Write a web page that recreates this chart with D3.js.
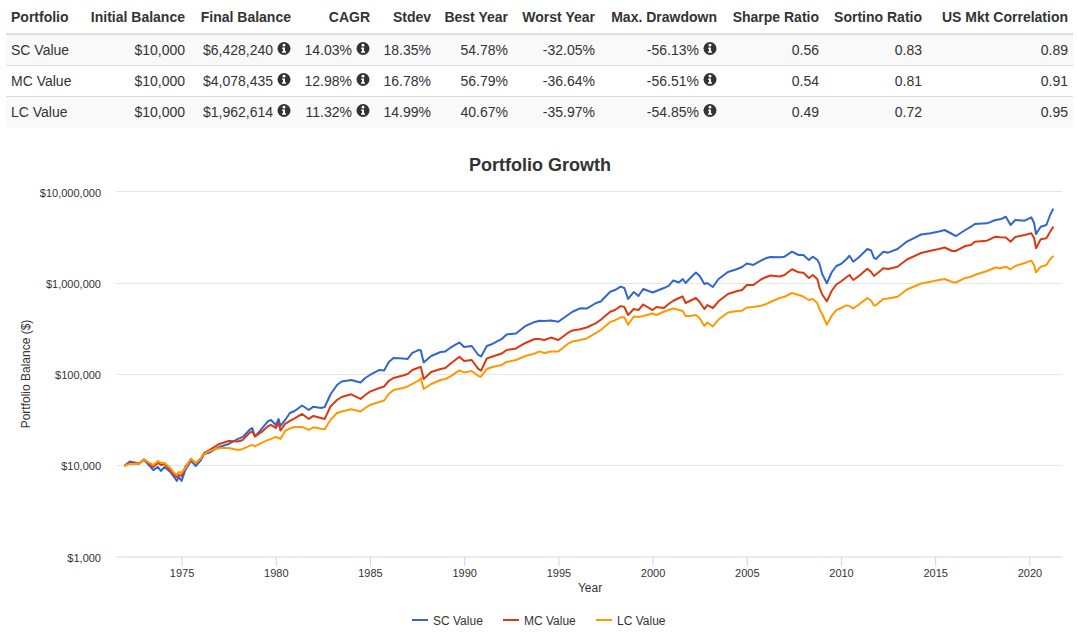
<!DOCTYPE html>
<html>
<head>
<meta charset="utf-8">
<script src="https://cdn.jsdelivr.net/npm/d3@7/dist/d3.min.js"></script>
<style>
  html, body { margin: 0; padding: 0; background: #fff; }
  svg { display: block; font-family: "Liberation Sans", Arial, sans-serif; }
</style>
</head>
<body>
<svg id="page" width="1077" height="635"></svg>
<script>
// Summary table
const tableHeaders = ["Portfolio","Initial Balance","Final Balance","CAGR","Stdev","Best Year","Worst Year","Max. Drawdown","Sharpe Ratio","Sortino Ratio","US Mkt Correlation"];
const portfolios = ["SC Value","MC Value","LC Value"];
const initialBalance = ["$10,000","$10,000","$10,000"];
const finalBalance = ["$6,428,240","$4,078,435","$1,962,614"];
const cagr = ["14.03%","12.98%","11.32%"];
const stdev = ["18.35%","16.78%","14.99%"];
const bestYear = ["54.78%","56.79%","40.67%"];
const worstYear = ["-32.05%","-36.64%","-35.97%"];
const maxDrawdown = ["-56.13%","-56.51%","-54.85%"];
const sharpe = ["0.56","0.54","0.49"];
const sortino = ["0.83","0.81","0.72"];
const usCorrelation = ["0.89","0.91","0.95"];

// Growth of $10,000, sampled through time
const dates = [1972,1972.25,1972.5,1972.75,1973,1973.25,1973.5,1973.75,1973.9,1974.1,1974.4,1974.6,1974.75,1974.85,1975,1975.2,1975.5,1975.75,1976,1976.2,1976.5,1977,1977.5,1978,1978.25,1978.6,1978.75,1978.9,1979.25,1979.6,1979.75,1980,1980.15,1980.25,1980.5,1980.75,1981,1981.4,1981.75,1982,1982.4,1982.6,1982.9,1983.25,1983.5,1984,1984.5,1984.75,1985,1985.5,1985.75,1986,1986.25,1986.75,1987,1987.25,1987.6,1987.7,1987.85,1988.25,1988.75,1989,1989.25,1989.75,1990,1990.4,1990.75,1990.9,1991.2,1991.5,1992,1992.25,1992.75,1993.25,1993.75,1994,1994.25,1994.6,1995,1995.5,1995.75,1996.15,1996.5,1997,1997.25,1997.75,1998,1998.3,1998.5,1998.7,1999,1999.25,1999.5,2000,2000.2,2000.6,2000.85,2001.1,2001.4,2001.6,2001.75,2002,2002.3,2002.5,2002.75,2002.9,2003.2,2003.5,2004,2004.5,2004.75,2005,2005.35,2005.75,2006,2006.25,2006.75,2007,2007.4,2007.75,2008,2008.3,2008.5,2008.75,2008.85,2009,2009.25,2009.5,2009.75,2010,2010.3,2010.45,2010.65,2010.95,2011.4,2011.6,2011.75,2011.85,2012.25,2012.5,2013,2013.5,2014.25,2014.75,2015.2,2015.5,2015.9,2016.1,2016.6,2016.9,2017.1,2017.75,2018.2,2018.45,2018.75,2019,2019.25,2019.75,2020.1,2020.25,2020.35,2020.6,2020.9,2021.1,2021.25];

const scValue = [10000,11060,10790,10520,11500,10130,8900,9620,8700,9620,8490,7480,6770,7480,6770,8900,11200,9870,11200,13370,13880,15950,17210,19520,20530,24500,25760,20790,25120,30740,31530,27790,32330,27100,31530,37620,39570,45460,40580,44100,42680,43770,60000,76250,83300,86500,81220,90990,98140,111500,110100,136400,150900,149000,147100,171200,184700,182400,134700,158700,175500,178000,194300,223100,199100,204200,162700,156700,204200,214800,243800,273000,280000,338300,375000,386700,384000,388700,377000,446600,485000,529000,526000,604500,628000,804000,839000,913000,882000,670000,797000,721000,861000,788000,818000,882000,930000,1068000,1015000,1109000,1002000,1138000,1306000,1196000,976000,1002000,905000,1109000,1323000,1428000,1501000,1639000,1579000,1761000,1871000,1933000,1918000,1947000,2209000,2032000,2032000,1792000,1947000,1792000,1639000,1258000,995000,1306000,1540000,1619000,1838000,1997000,1717000,1918000,2365000,2277000,1885000,1838000,2209000,2154000,2365000,2856000,3410000,3514000,3677000,3820000,3453000,3282000,3820000,4151000,4444000,4523000,4915000,5003000,5343000,4333000,4915000,4830000,5263000,4558000,3453000,4151000,4333000,5577000,6428240];

const mcValue = [10000,10650,10520,10520,11640,10650,9620,10650,10130,10390,8900,7870,7480,7870,7670,9620,11640,10650,11780,13710,14780,17210,18560,18330,19040,22710,23590,20790,23300,27100,27790,25760,29230,24190,28500,30740,32740,36680,32330,34880,33160,32330,44320,52230,56340,60300,53560,59250,64400,70700,73420,84400,90990,96910,100700,111500,118700,120200,88730,106000,114300,117300,129700,155900,139900,143400,114300,109500,149000,156700,169000,184700,191800,220300,243800,243800,237700,252500,237700,283500,302000,311300,325800,363800,396000,485000,506000,559000,546000,446600,519000,506000,582000,506000,546000,533000,589000,640000,686000,712000,604500,640000,686000,620000,519000,573000,533000,631000,759000,818000,839000,952000,952000,1095000,1158000,1211000,1181000,1227000,1417000,1313000,1300000,1138000,1227000,1101000,905000,749000,631000,818000,965000,1041000,1167000,1227000,1081000,1196000,1438000,1323000,1196000,1243000,1452000,1428000,1512000,1815000,2137000,2267000,2365000,2456000,2249000,2249000,2551000,2615000,2843000,2916000,3225000,3175000,3160000,2843000,3201000,3366000,3514000,3121000,2407000,3020000,3098000,3660000,4078435];

const lcValue = [10000,10390,10390,10520,11640,10790,10130,11200,10650,10650,9390,8280,7870,8490,8280,9390,11930,10650,11780,13370,14420,15550,15550,14780,15160,16360,16780,16150,17650,19040,19520,20530,20020,19520,23890,25440,26420,26420,24500,26200,25250,24940,31530,37620,39070,41300,39070,42680,46030,49650,51570,60760,67200,70700,73420,78200,85420,90990,68940,78200,86500,88730,94000,110100,104700,108700,95700,94000,114300,120200,126500,136400,143400,158700,169000,178000,171200,178000,178000,214800,229000,237700,246800,283500,306500,375000,388700,421400,421400,349000,430000,424000,435500,464000,446600,485000,506000,526000,506000,494000,435500,435500,446600,412000,338300,370000,334100,398000,476000,494000,498000,540000,546000,565000,585000,620000,686000,708000,778000,740000,712000,652000,670000,600000,519000,458000,349000,435500,506000,533000,569000,559000,526000,582000,686000,640000,569000,573000,670000,677000,708000,850000,990000,1036000,1081000,1109000,1028000,1015000,1138000,1175000,1227000,1357000,1482000,1452000,1512000,1417000,1540000,1661000,1761000,1579000,1313000,1512000,1579000,1824000,1962614];

const seriesNames = ["SC Value","MC Value","LC Value"];
const seriesValues = [scValue, mcValue, lcValue];
const seriesColors = ["#3366cc","#dc3912","#ff9900"];

const yTicks = [1000,10000,100000,1000000,10000000];
const xTicks = [1975,1980,1985,1990,1995,2000,2005,2010,2015,2020];

const svg = d3.select("#page");
const ink = "#333";

// ---- table ----
const rowTop = [35, 66, 97], rowH = 30.5;
const tableLeft = 6, tableRight = 1073;
const columns = [
  {vals: portfolios, right: null, left: 11},
  {vals: initialBalance, right: 185},
  {vals: finalBalance, right: 291, valueRight: 273, icon: 284},
  {vals: cagr, right: 370, valueRight: 352, icon: 363},
  {vals: stdev, right: 431},
  {vals: bestYear, right: 508},
  {vals: worstYear, right: 595},
  {vals: maxDrawdown, right: 717, valueRight: 699, icon: 710},
  {vals: sharpe, right: 819},
  {vals: sortino, right: 922},
  {vals: usCorrelation, right: 1068}
];

const table = svg.append("g");
table.selectAll("rect.stripe").data([0, 2]).join("rect")
  .attr("class", "stripe").attr("x", tableLeft).attr("width", tableRight - tableLeft)
  .attr("y", i => rowTop[i]).attr("height", rowH).attr("fill", "#f9f9f9");
table.append("rect").attr("x", tableLeft).attr("y", 33).attr("width", tableRight - tableLeft)
  .attr("height", 2).attr("fill", "#ddd");
table.selectAll("rect.rule").data([65, 96]).join("rect")
  .attr("class", "rule").attr("x", tableLeft).attr("width", tableRight - tableLeft)
  .attr("y", d => d).attr("height", 1).attr("fill", "#ddd");

columns.forEach((c, ci) => {
  const isLeft = c.right === null;
  table.append("text")
    .attr("x", isLeft ? c.left : c.right).attr("y", 22)
    .attr("text-anchor", isLeft ? "start" : "end")
    .attr("font-size", 14).attr("font-weight", "bold").attr("fill", ink)
    .text(tableHeaders[ci]);
  c.vals.forEach((v, r) => {
    table.append("text")
      .attr("x", isLeft ? c.left : (c.valueRight || c.right)).attr("y", rowTop[r] + 20)
      .attr("text-anchor", isLeft ? "start" : "end")
      .attr("font-size", 14).attr("fill", ink)
      .text(v);
    if (c.icon) {
      const g = table.append("g").attr("transform", `translate(${c.icon},${rowTop[r] + 13.5})`);
      g.append("circle").attr("r", 6.5).attr("fill", "#333");
      g.append("circle").attr("cy", -3.3).attr("r", 1.4).attr("fill", "#fff");
      g.append("path").attr("d", "M-1.8,-1 H1 V2.8 H2 V4.2 H-2 V2.8 H-1 V0.4 H-1.8 Z").attr("fill", "#fff");
    }
  });
});

// ---- chart ----
const plot = {left: 116, right: 1062, top: 191.9, bottom: 556.6};
const x = d3.scaleLinear().domain([1971.52, 2021.73]).range([plot.left, plot.right]);
const y = d3.scaleLog().domain([1000, 10000000]).range([plot.bottom, plot.top]);
const gridY = v => Math.floor(y(v)) + 0.5;

svg.append("text").attr("x", 540).attr("y", 171).attr("text-anchor", "middle")
  .attr("font-size", 18).attr("font-weight", "bold").attr("fill", ink).text("Portfolio Growth");

// horizontal grid
svg.append("g").selectAll("line").data(yTicks.slice(1)).join("line")
  .attr("x1", plot.left).attr("x2", plot.right)
  .attr("y1", gridY).attr("y2", gridY)
  .attr("stroke", "#e6e6e6");

// y axis labels only: no domain line or tick marks
const yAxis = svg.append("g").attr("transform", `translate(${plot.left},1)`)
  .call(d3.axisLeft(y).tickValues(yTicks).tickFormat(d3.format("$,")).tickSize(0).tickPadding(15));
yAxis.select(".domain").remove();
yAxis.selectAll("text").attr("font-size", 11).attr("fill", ink).attr("font-family", "inherit");

const xAxis = svg.append("g").attr("transform", `translate(0,${gridY(1000)})`)
  .call(d3.axisBottom(x).tickValues(xTicks).tickFormat(d3.format("d")).tickSize(10).tickPadding(3).tickSizeOuter(0));
xAxis.select(".domain").attr("stroke", "#ccd6eb");
xAxis.selectAll(".tick line").attr("stroke", "#ccd6eb");
xAxis.selectAll("text").attr("font-size", 11).attr("fill", ink).attr("font-family", "inherit");

svg.append("text").attr("x", 590).attr("y", 592).attr("text-anchor", "middle")
  .attr("font-size", 12).attr("fill", ink).text("Year");
svg.append("text").attr("transform", "translate(30,374) rotate(-90)").attr("text-anchor", "middle")
  .attr("font-size", 12).attr("fill", ink).text("Portfolio Balance ($)");

// growth lines, small caps first so large caps sit on top
const line = d3.line().x((d, i) => x(dates[i])).y(d => y(d));
svg.append("g").selectAll("path").data(seriesValues).join("path")
  .attr("d", line).attr("fill", "none")
  .attr("stroke", (d, i) => seriesColors[i]).attr("stroke-width", 2)
  .attr("stroke-linejoin", "round").attr("stroke-linecap", "round");

// legend
const legendX = [412, 503, 596];
const legend = svg.append("g").selectAll("g").data(seriesNames).join("g")
  .attr("transform", (d, i) => `translate(${legendX[i]},620)`);
legend.append("line").attr("x1", 0).attr("x2", 16).attr("stroke-width", 2)
  .attr("stroke", (d, i) => seriesColors[i]);
legend.append("text").attr("x", 21).attr("y", 4.5).attr("font-size", 12).attr("fill", ink).text(d => d);
</script>
</body>
</html>
